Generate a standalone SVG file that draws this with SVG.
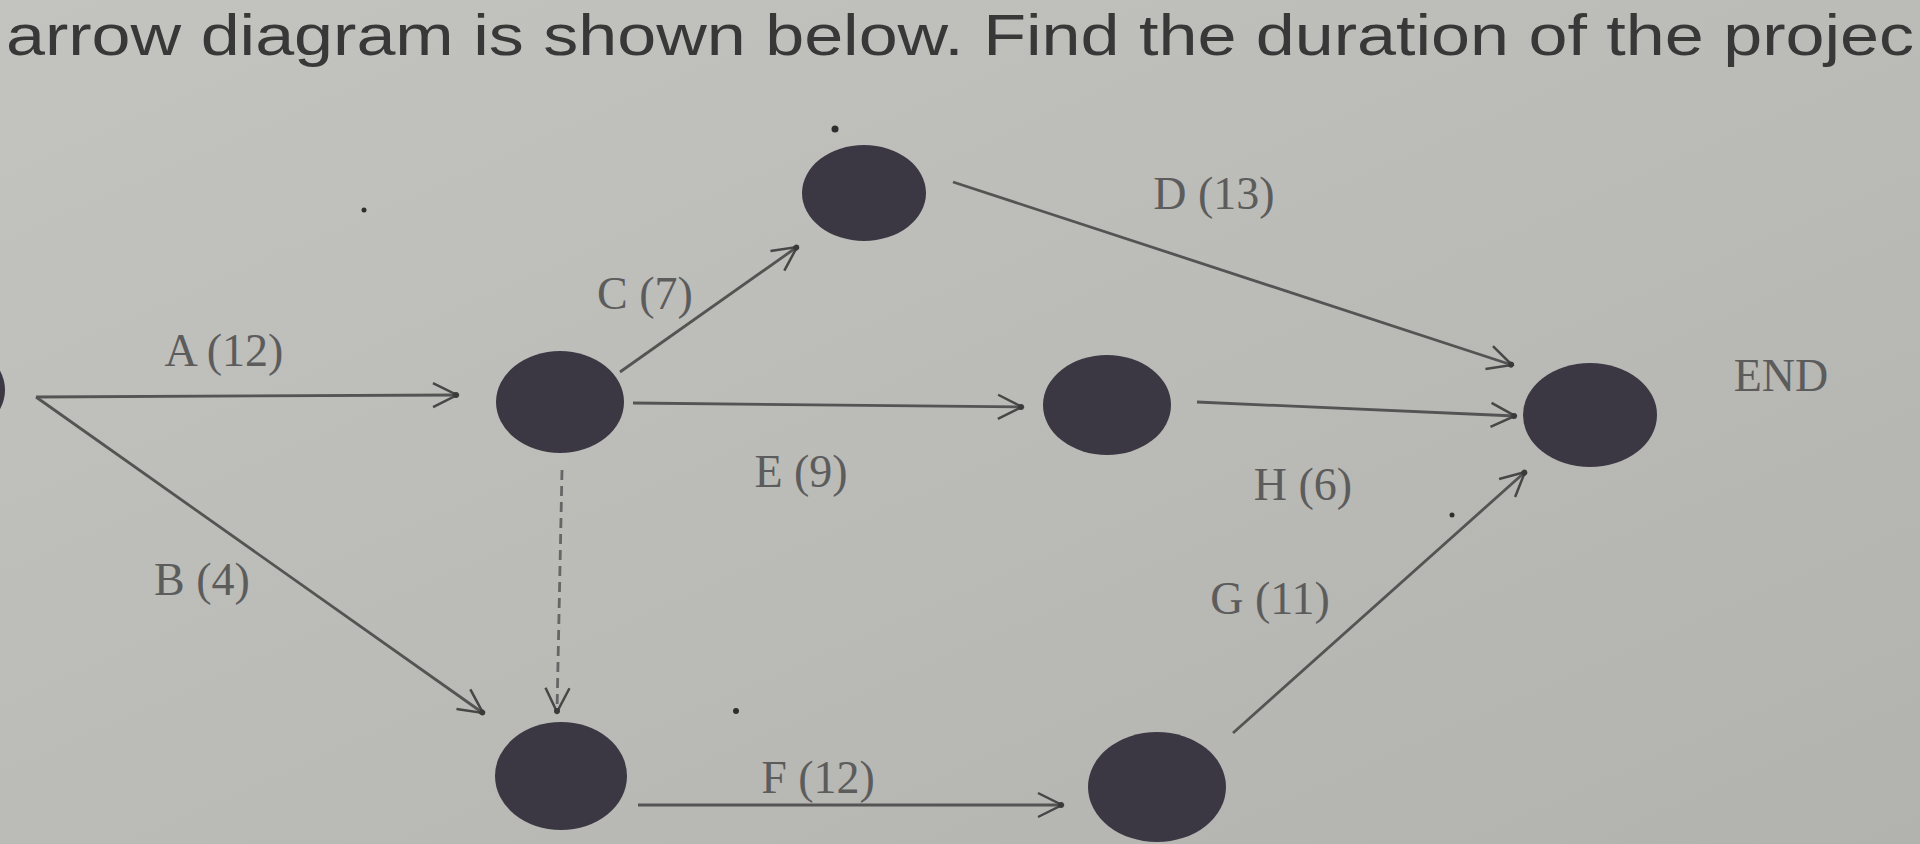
<svg xmlns="http://www.w3.org/2000/svg" width="1920" height="844" viewBox="0 0 1920 844">
<defs>
<linearGradient id="bg" x1="0" y1="0" x2="1" y2="1">
<stop offset="0" stop-color="#c3c3bf"/>
<stop offset="0.5" stop-color="#bbbbb7"/>
<stop offset="1" stop-color="#b2b2ae"/>
</linearGradient>
<marker id="arr" markerUnits="userSpaceOnUse" markerWidth="40" markerHeight="40" viewBox="-30 -20 40 40" refX="0" refY="0" orient="auto">
<path d="M-24,-12 L0,0 L-24,12" fill="none" stroke="#474747" stroke-width="2.5"/>
<circle cx="-1" cy="0" r="3" fill="#3a3a3a"/>
</marker>
</defs>
<style>
.node{fill:#3c3843;}
.edge{fill:none;stroke:#545454;stroke-width:2.8;marker-end:url(#arr);}
.dash{stroke-dasharray:10 6;stroke:#666;}
.lbl{font-family:"Liberation Serif","DejaVu Serif",serif;font-size:46px;fill:#5c5c5c;text-anchor:middle;}
.title{font-family:"Liberation Sans","DejaVu Sans",sans-serif;font-size:58px;fill:#383838;}
.dot{fill:#2e2e2e;}
</style>
<rect x="0" y="0" width="1920" height="844" fill="url(#bg)"/>
<text class="title" x="6" y="55" textLength="1908" lengthAdjust="spacingAndGlyphs">arrow diagram is shown below. Find the duration of the projec</text>
<g id="connectors">
<line id="edge-A" class="edge" x1="36" y1="397" x2="457" y2="395"/>
<line id="edge-B" class="edge" x1="36" y1="397" x2="483" y2="713"/>
<line id="edge-C" class="edge" x1="620" y1="372" x2="797" y2="247"/>
<line id="edge-D" class="edge" x1="953" y1="182" x2="1512" y2="365"/>
<line id="edge-E" class="edge" x1="633" y1="403" x2="1022" y2="407"/>
<line id="edge-H" class="edge" x1="1197" y1="402" x2="1515" y2="416"/>
<line id="edge-G" class="edge" x1="1233" y1="733" x2="1525" y2="472"/>
<line id="edge-F" class="edge" x1="638" y1="805" x2="1062" y2="805"/>
<line id="edge-dummy" class="edge dash" x1="562" y1="470" x2="557" y2="712"/>
</g>
<g id="labels">
<text class="lbl" x="224" y="366">A (12)</text>
<text class="lbl" x="202" y="595">B (4)</text>
<text class="lbl" x="645" y="309">C (7)</text>
<text class="lbl" x="1214" y="209">D (13)</text>
<text class="lbl" x="801" y="487">E (9)</text>
<text class="lbl" x="1303" y="500">H (6)</text>
<text class="lbl" x="1270" y="614">G (11)</text>
<text class="lbl" x="818" y="793">F (12)</text>
</g>
<g id="node-start"><ellipse class="node" cx="-60" cy="390" rx="65" ry="50"/></g>
<g id="node-2"><ellipse class="node" cx="560" cy="402" rx="64" ry="51"/></g>
<g id="node-3"><ellipse class="node" cx="864" cy="193" rx="62" ry="48"/></g>
<g id="node-4"><ellipse class="node" cx="1107" cy="405" rx="64" ry="50"/></g>
<g id="node-end"><ellipse class="node" cx="1590" cy="415" rx="67" ry="52"/><text class="lbl" x="1781" y="391">END</text></g>
<g id="node-5"><ellipse class="node" cx="561" cy="776" rx="66" ry="54"/></g>
<g id="node-6"><ellipse class="node" cx="1157" cy="787" rx="69" ry="55"/></g>
<circle class="dot" cx="835" cy="129" r="3.5"/>
<circle class="dot" cx="364" cy="210" r="2.5"/>
<circle class="dot" cx="736" cy="711" r="3"/>
<circle class="dot" cx="1452" cy="515" r="2.5"/>
</svg>
